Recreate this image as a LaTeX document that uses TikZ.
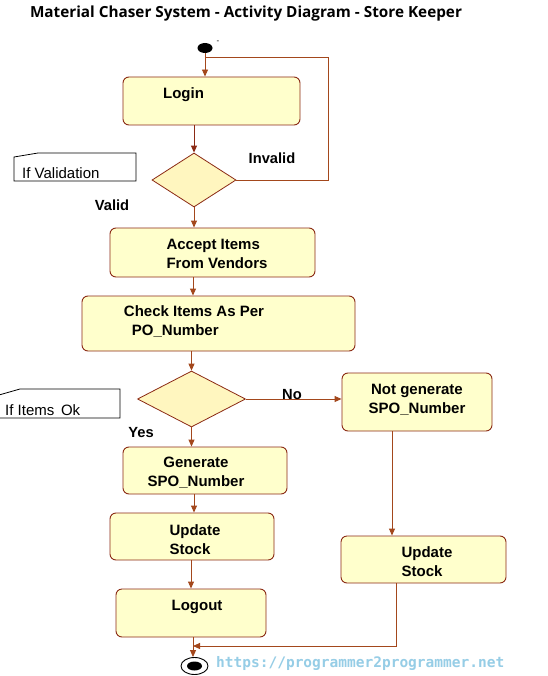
\documentclass[tikz,border=0pt]{standalone}
\usepackage{fontspec}
\setmainfont{Liberation Sans}
\newfontfamily\titlefont{Open Sans}
\newfontfamily\urlfont{DejaVu Sans Mono}
\usetikzlibrary{shapes.geometric,arrows.meta}
\definecolor{boxfill}{HTML}{FFFFCC}
\definecolor{boxline}{HTML}{8B2A14}
\definecolor{dfill}{HTML}{FFF6BF}
\definecolor{arr}{HTML}{A3471C}
\definecolor{urlc}{RGB}{150,205,230}
\tikzset{
  act/.style={draw=boxline, fill=boxfill, rounded corners=6pt, line width=0.9pt, inner sep=0pt},
  acttext/.style={font=\fontsize{15}{19}\selectfont\bfseries, align=left, inner sep=0pt},
  dec/.style={diamond, draw=boxline, fill=dfill, line width=0.8pt, inner sep=0pt},
  flow/.style={draw=arr, line width=0.9pt, -{Triangle[length=7pt,width=6pt]}},
  plain/.style={draw=arr, line width=0.9pt},
  note/.style={draw=black, fill=white, line width=0.8pt},
  guard/.style={font=\fontsize{14.7}{16}\selectfont\bfseries, inner sep=0pt},
  notetext/.style={font=\fontsize{15}{16}\selectfont, anchor=west, inner sep=0pt},
}
\begin{document}
\begin{tikzpicture}[x=1pt,y=-1pt]
\useasboundingbox (0,0) rectangle (547,676);
\fill[white] (0,0) rectangle (547,676);

\node[font=\titlefont\fontsize{15.3}{17}\selectfont\bfseries] (title) at (246,14) {Material Chaser System - Activity Diagram - Store Keeper};

% start
\node[ellipse, fill=black, minimum width=15pt, minimum height=10pt, inner sep=0pt] (start) at (205,48) {};
\node[font=\fontsize{8}{8}\selectfont] (dash) at (218,42) {-};

% activity boxes
\node[act, minimum width=177pt, minimum height=48pt] (login) at (211.5,101) {};
\node[acttext] (logint) at (183.5,95) {Login};

\node[dec, minimum width=84pt, minimum height=54pt] (d1) at (194,180) {};

\node[act, minimum width=205pt, minimum height=49pt] (accept) at (212.5,252.5) {};
\node[acttext] (acceptt) at (217,254) {Accept Items\\From Vendors};

\node[act, minimum width=273pt, minimum height=55pt] (check) at (218.5,323.5) {};
\node[acttext] (checkt) at (194,321.5) {Check Items As Per\\\hspace{8pt}PO\_Number};

\node[dec, minimum width=108pt, minimum height=56pt] (d2) at (191.5,399) {};

\node[act, minimum width=150pt, minimum height=58pt] (notgen) at (417,402) {};
\node[acttext, align=center] (notgent) at (417,399.5) {Not generate\\SPO\_Number};

\node[act, minimum width=164pt, minimum height=47pt] (gen) at (205,470.5) {};
\node[acttext, align=center] (gent) at (196,472.5) {Generate\\SPO\_Number};

\node[act, minimum width=164pt, minimum height=47pt] (upd1) at (192,536.5) {};
\node[acttext] (upd1t) at (195,539.5) {Update\\Stock};

\node[act, minimum width=150pt, minimum height=48pt] (logout) at (191,613) {};
\node[acttext] (logoutt) at (197,607) {Logout};

\node[act, minimum width=165pt, minimum height=47pt] (upd2) at (423.5,559.5) {};
\node[acttext] (upd2t) at (427,561.5) {Update\\Stock};

% end node
\node[ellipse, draw=black, fill=white, line width=0.9pt, minimum width=27pt, minimum height=17pt, inner sep=0pt] (endo) at (194.5,666) {};
\node[ellipse, fill=black, minimum width=15pt, minimum height=9pt, inner sep=0pt] (endi) at (194.5,666) {};

% notes
\draw[note] (14,157) -- (38,153) -- (136,153) -- (136,181) -- (14,181) -- cycle;
\node[notetext] (n1) at (22,173) {If Validation};
\draw[note] (-1,395) -- (20,389) -- (120,389) -- (120,418) -- (-1,418) -- cycle;
\node[notetext] (n2) at (5,410) {If Items\, Ok};

% guards
\node[guard] (inv) at (272,158) {Invalid};
\node[guard] (val) at (112,205) {Valid};
\node[guard] (yes) at (141,433) {Yes};

% connectors
\coordinate (loopj) at (205,57);
\draw[flow] (start) -- (login.north -| start);
\draw[plain] (d1.east) -| (328,57) -- (loopj);
\draw[flow, draw=boxline] (login.south -| d1) -- (d1.north);
\draw[flow] (d1.south) -- (accept.north -| d1);
\draw[flow] (accept.south -| 193,0) -- (check.north -| 193,0);
\draw[flow] (check.south -| d2) -- (d2.north);
\draw[flow] (d2.east) -- (notgen.west |- d2);
\node[guard] (no) at (292,395) {No};
\draw[flow] (d2.south) -- (gen.north -| d2);
\draw[flow] (gen.south -| 194,0) -- (upd1.north -| 194,0);
\draw[flow] (upd1.south -| logout) -- (logout.north);
\draw[flow] (notgen.south -| 392,0) -- (upd2.north -| 392,0);
\coordinate (mj) at (193,646);
\draw[flow] (upd2.south -| 396,0) |- (mj);
\draw[flow] (logout.south -| 193,0) -- (endo.north -| 193,0);

\node[font=\urlfont\fontsize{14.5}{16}\selectfont\bfseries, text=urlc, anchor=west, inner sep=0pt] (url) at (216,663) {https://programmer2programmer.net};
\end{tikzpicture}
\end{document}
